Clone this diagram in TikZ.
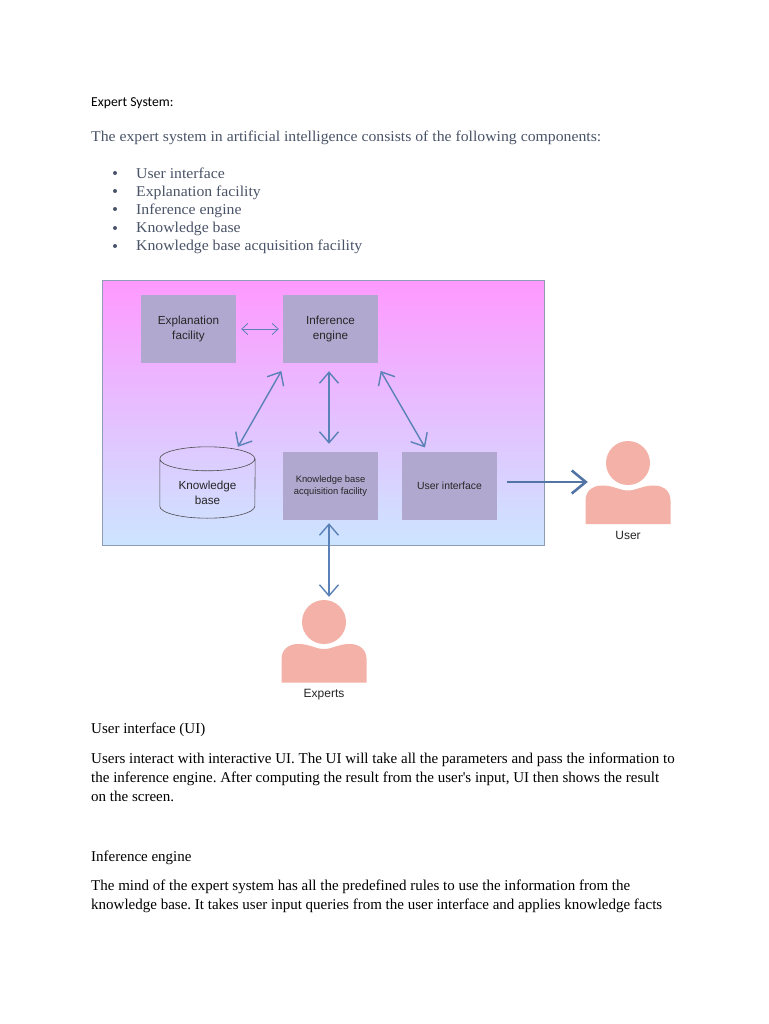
\documentclass[tikz,border=0pt]{standalone}
\usepackage{fontspec}
\setmainfont{Liberation Serif}
\newfontfamily\slatefont[FakeStretch=1.05]{Liberation Serif}
\newfontfamily\headfont{Carlito}
\newfontfamily\boxfont{Liberation Sans}
\usetikzlibrary{positioning}
\usetikzlibrary{arrows.meta}
\definecolor{slatetext}{HTML}{4A5468}
\definecolor{boxfill}{HTML}{B0A8CF}
\definecolor{linkblue}{HTML}{5B82B8}
\definecolor{personfill}{HTML}{F4B1A7}
\definecolor{panelborder}{HTML}{8E9DB5}
\definecolor{paneltop}{HTML}{FF99FF}
\definecolor{panelbottom}{HTML}{CCE5FF}
\frenchspacing
\begin{document}
\begin{tikzpicture}
		[x=1pt, y=-1pt,
		docline/.style={anchor=base west, inner sep=0pt, font=\fontsize{15}{16}\selectfont},
		slateline/.style={docline, text=slatetext, font=\slatefont\fontsize{15}{16}\selectfont},
		bullet/.style={circle, fill=slatetext, inner sep=0pt, minimum size=4pt},
		component/.style={rectangle, fill=boxfill, inner sep=0pt, minimum width=95pt, minimum height=68pt, align=center, font=\boxfont\fontsize{11.7}{15}\selectfont, text=black!85},
		link/.style={draw=linkblue, line width=1.4pt, {Straight Barb[length=11pt,width=19pt]}-{Straight Barb[length=11pt,width=19pt]}},
		head/.style={circle, fill=personfill, minimum size=44pt, inner sep=0pt},
		person/.pic={\fill[personfill] (-42.5,0) -- (-42.5,-24) .. controls (-42,-35) and (-33,-39) .. (-24,-38.5) .. controls (-14,-38) and (-8,-33.5) .. (0,-33.5) .. controls (8,-33.5) and (14,-38) .. (24,-38.5) .. controls (33,-39) and (42,-35) .. (42.5,-24) -- (42.5,0) -- cycle;},
		personlabel/.style={font=\boxfont\fontsize{12}{14}\selectfont, text=black!85}]
		\useasboundingbox (0,0) rectangle (768,1024);
		\fill[white] (0,0) rectangle (768,1024);

		\node[docline, font=\headfont\fontsize{13.700}{16}\selectfont] (title) at (91,107) {Expert System:};
		\node[slateline] (intro) at (91,142) {The expert system in artificial intelligence consists of the following components:};

		\node[slateline] (item1) at (136,178.500) {User interface};
		\node[slateline] (item2) at (136,196.500) {Explanation facility};
		\node[slateline] (item3) at (136,214.500) {Inference engine};
		\node[slateline] (item4) at (136,233) {Knowledge base};
		\node[slateline] (item5) at (136,251) {Knowledge base acquisition facility};
		\foreach \n/\y in {b1/173, b2/191, b3/209, b4/228, b5/246}
			\node[bullet] (\n) at (115,\y) {};

		% panel
		\node[rectangle, draw=panelborder, line width=0.8pt, inner sep=0pt, minimum width=442pt, minimum height=265pt, top color=paneltop, bottom color=panelbottom] (panel) at (323.500,412.500) {};

		\node[component] (expl) at (188.500,329) {Explanation\\facility};
		\node[component] (infer) at (330.500,329) {Inference\\engine};
		\node[component, font=\boxfont\fontsize{9.400}{12}\selectfont] (acq) at (330.500,486) {Knowledge base\\acquisition facility};
		\node[component, font=\boxfont\fontsize{10.400}{12}\selectfont] (ui) at (449.500,486) {User interface};

		% knowledge base cylinder
		\node[inner sep=0pt, minimum width=95pt, minimum height=71pt] (kb) at (207.500,482.500) {};
		\draw[black!70, line width=0.6pt] ([yshift=-12pt]kb.north west)
			arc[start angle=180, end angle=-180, x radius=47.500, y radius=12]
			-- ([yshift=12pt]kb.south west)
			arc[start angle=180, end angle=0, x radius=47.500, y radius=12]
			-- ([yshift=-12pt]kb.north east);
		\node[align=center, inner sep=0pt, font=\boxfont\fontsize{11.700}{15}\selectfont, text=black!85] (kblabel) at (207.500,493) {Knowledge\\base};

		% people
		\node[head] (userhead) at (628,463) {};
		\pic at (628,524) {person};
		\node[personlabel] (user) at (628,535.500) {User};
		\node[head] (experthead) at (324,622) {};
		\pic at (324,682.500) {person};
		\node[personlabel] (experts) at (324,694.500) {Experts};

		% links
		\coordinate (uiout) at ([yshift=4pt]ui.east);
		\draw[link, line width=0.8pt, {Straight Barb[length=6pt,width=11pt]}-{Straight Barb[length=6pt,width=11pt]}, shorten <=5pt, shorten >=4pt] (expl) -- (infer);
		\draw[link, shorten <=9pt] ([xshift=3pt]infer.south west) -- ([xshift=30.500pt]kb.north);
		\draw[link, shorten <=8pt, shorten >=8pt] ([xshift=-1.500pt]infer.south) -- ([xshift=-1.500pt]acq.north);
		\draw[link, shorten <=9pt, shorten >=5pt] ([xshift=-2pt]infer.south east) -- ([xshift=-22pt]ui.north);
		\draw[link, shorten <=3pt, shorten >=3pt] ([xshift=-1.500pt]acq.south) -- ([xshift=5pt]experthead.north);
		\draw[link, line width=2.600pt, linkblue!90!black, -{Straight Barb[length=14pt,width=23pt]}, shorten <=10pt, shorten >=18pt] (uiout) -- (uiout -| userhead.west);

		\node[docline] (h1) at (91,733) {User interface (UI)};
		\node[docline] (p1) at (91,763) {Users interact with interactive UI. The UI will take all the parameters and pass the information to};
		\node[docline] (p2) at (91,782) {the inference engine. After computing the result from the user\textquotesingle s input, UI then shows the result};
		\node[docline] (p3) at (91,801) {on the screen.};
		\node[docline] (h2) at (91,861) {Inference engine};
		\node[docline] (p4) at (91,890) {The mind of the expert system has all the predefined rules to use the information from the};
		\node[docline] (p5) at (91,909) {knowledge base. It takes user input queries from the user interface and applies knowledge facts};
\end{tikzpicture}
\end{document}
